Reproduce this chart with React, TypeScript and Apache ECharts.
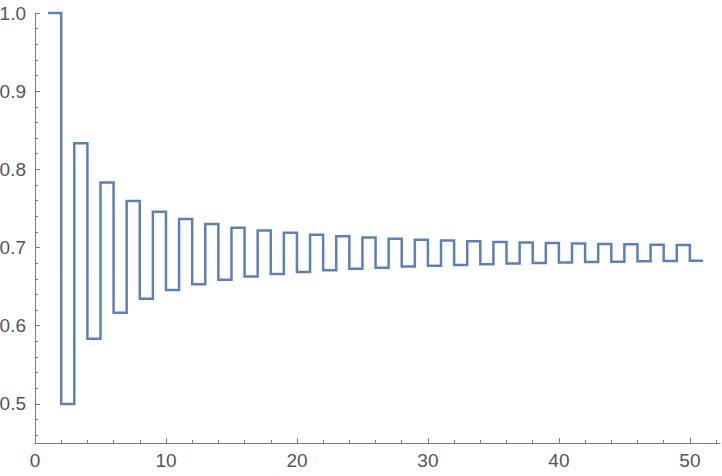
import React, { useEffect, useRef } from "react";
import * as echarts from "echarts";

// Partial sums (steps at n = 1..50)
const partialSums: number[] = [
  1.0, 0.5, 0.833333, 0.583333, 0.783333, 0.616667, 0.759524, 0.634524, 0.745635, 0.645635,
  0.736544, 0.653211, 0.730134, 0.658705, 0.725372, 0.662872, 0.721696, 0.66614, 0.718772, 0.668772,
  0.716391, 0.670936, 0.714414, 0.672747, 0.712747, 0.674285, 0.711322, 0.675608, 0.710091, 0.676758,
  0.709016, 0.677766, 0.708069, 0.678657, 0.707228, 0.67945, 0.706477, 0.680161, 0.705802, 0.680802,
  0.705192, 0.681382, 0.704638, 0.681911, 0.704133, 0.682394, 0.703671, 0.682838, 0.703246, 0.683246,
];

const xMajorTicks = [0, 10, 20, 30, 40, 50];
const xMinorTicks = [2, 4, 6, 8, 12, 14, 16, 18, 22, 24, 26, 28, 32, 34, 36, 38, 42, 44, 46, 48, 52];
const yMajorTicks = [0.5, 0.6, 0.7, 0.8, 0.9, 1.0];
const yMinorTicks = [
  0.46, 0.48, 0.52, 0.54, 0.56, 0.58, 0.62, 0.64, 0.66, 0.68, 0.72, 0.74, 0.76, 0.78,
  0.82, 0.84, 0.86, 0.88, 0.92, 0.94, 0.96, 0.98,
];

const X_MIN = 0;
const X_MAX = 52.3;
const Y_MIN = 0.45;
const Y_MAX = 1.0;

export default function App() {
  const ref = useRef<HTMLDivElement>(null);

  useEffect(() => {
    document.body.style.margin = "0";
    if (!ref.current) return;
    const chart = echarts.init(ref.current, undefined, { renderer: "svg" });

    const data: [number, number][] = partialSums.map((v, i) => [i + 1, v]);
    data.push([partialSums.length + 1, partialSums[partialSums.length - 1]]);

    const axisColor = "#7a7a7a";
    const labelStyle = {
      color: "#555555",
      fontSize: 19,
      fontFamily: "Liberation Sans, Arial, sans-serif",
    };

    chart.setOption({
      animation: false,
      grid: { left: 35, right: 2, top: 13, bottom: 33, containLabel: false, outerBoundsMode: "none" },
      xAxis: [
        {
          type: "value",
          min: X_MIN,
          max: X_MAX,
          position: "bottom",
          axisLine: { show: true, onZero: false, lineStyle: { color: axisColor, width: 1 } },
          axisTick: { show: true, inside: true, length: 5, customValues: xMajorTicks, lineStyle: { color: axisColor } },
          axisLabel: { show: true, customValues: xMajorTicks, margin: 8, ...labelStyle },
          splitLine: { show: false },
        },
        {
          type: "value",
          min: X_MIN,
          max: X_MAX,
          position: "bottom",
          axisLine: { show: false, onZero: false },
          axisTick: { show: true, inside: true, length: 3, customValues: xMinorTicks, lineStyle: { color: axisColor } },
          axisLabel: { show: false },
          splitLine: { show: false },
        },
      ],
      yAxis: [
        {
          type: "value",
          min: Y_MIN,
          max: Y_MAX,
          position: "left",
          axisLine: { show: true, onZero: false, lineStyle: { color: axisColor, width: 1 } },
          axisTick: { show: true, inside: true, length: 5, customValues: yMajorTicks, lineStyle: { color: axisColor } },
          axisLabel: {
            show: true,
            customValues: yMajorTicks,
            margin: 9,
            formatter: (v: number) => v.toFixed(1),
            ...labelStyle,
          },
          splitLine: { show: false },
        },
        {
          type: "value",
          min: Y_MIN,
          max: Y_MAX,
          position: "left",
          axisLine: { show: false, onZero: false },
          axisTick: { show: true, inside: true, length: 3, customValues: yMinorTicks, lineStyle: { color: axisColor } },
          axisLabel: { show: false },
          splitLine: { show: false },
        },
      ],
      series: [
        {
          type: "line",
          step: "end",
          data,
          xAxisIndex: 0,
          yAxisIndex: 0,
          showSymbol: false,
          symbol: "none",
          clip: false,
          lineStyle: { color: "#5E81B5", width: 2.5, join: "miter" },
        },
      ],
    });

    return () => chart.dispose();
  }, []);

  return <div ref={ref} style={{ width: 722, height: 476 }} />;
}
